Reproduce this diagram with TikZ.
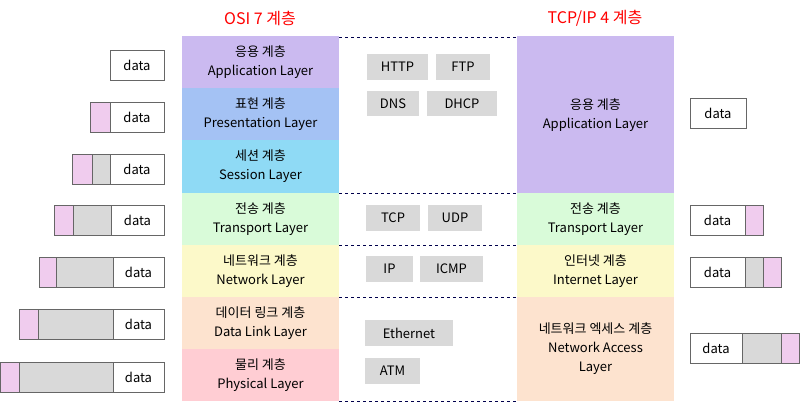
\documentclass[tikz,border=0pt]{standalone}
\usepackage{fontspec}
\setmainfont{Noto Sans CJK KR}
\begin{document}
\begin{tikzpicture}[x=1pt,y=-1pt,
  lay/.style={draw=none,inner sep=0,align=center,font=\fontsize{13}{19}\selectfont},
  dl/.style={dashed,draw=blue!30!black,thick},
  dbox/.style={draw=gray!80!black,fill=white},
  gy/.style={draw=gray!80!black,fill=gray!30},
  dt/.style={font=\fontsize{13}{15}\selectfont}]
\useasboundingbox (0,0) rectangle (800,415);
\definecolor{cA}{HTML}{CBBAF0}\definecolor{cP}{HTML}{A4C2F4}\definecolor{cS}{HTML}{8FDAF5}
\definecolor{cT}{HTML}{D9FBD9}\definecolor{cN}{HTML}{FCF9C9}\definecolor{cD}{HTML}{FDE3CF}\definecolor{cH}{HTML}{FFCDD3}
\definecolor{pk}{HTML}{F0CCEE}
\tikzset{pk/.style={draw=gray!80!black,fill=pk}}
\node[text=red,font=\fontsize{16}{18}\selectfont] (t1) at (260,18) {OSI 7 계층};
\node[text=red,font=\fontsize{16}{18}\selectfont] (t2) at (595,18) {TCP/IP 4 계층};
% OSI
\fill[cA] (182,36) rectangle (339,88); \node[lay] (o1) at (260.5,62) {응용 계층\\Application Layer};
\fill[cP] (182,88) rectangle (339,140); \node[lay] (o2) at (260.5,114) {표현 계층\\Presentation Layer};
\fill[cS] (182,140) rectangle (339,193); \node[lay] (o3) at (260.5,166) {세션 계층\\Session Layer};
\fill[cT] (182,193) rectangle (339,245); \node[lay] (o4) at (260.5,219) {전송 계층\\Transport Layer};
\fill[cN] (182,245) rectangle (339,297); \node[lay] (o5) at (260.5,271) {네트워크 계층\\Network Layer};
\fill[cD] (182,297) rectangle (339,349); \node[lay] (o6) at (260.5,323) {데이터 링크 계층\\Data Link Layer};
\fill[cH] (182,349) rectangle (339,401); \node[lay] (o7) at (260.5,375) {물리 계층\\Physical Layer};
% TCP/IP
\fill[cA] (517,36) rectangle (674,193); \node[lay] (p1) at (595.5,115) {응용 계층\\Application Layer};
\fill[cT] (517,193) rectangle (674,245); \node[lay] (p2) at (595.5,219) {전송 계층\\Transport Layer};
\fill[cN] (517,245) rectangle (674,297); \node[lay] (p3) at (595.5,271) {인터넷 계층\\Internet Layer};
\fill[cD] (517,297) rectangle (674,401); \node[lay] (p4) at (595.5,349) {네트워크 엑세스 계층\\Network Access\\Layer};
% dashed
\foreach \y in {37,193,245,297,401} \draw[dl] (339,\y) -- (517,\y);
% protocols
\foreach \n/\a/\b/\c/\d/\t in {h/367/54/428/80/HTTP,f/436/54/490/80/FTP,d/367/91/419/116/DNS,dh/427/91/497/116/DHCP,tc/366/205/420/231/TCP,ud/428/205/482/231/UDP,ip/366/256/413/282/IP,ic/420/256/483/282/ICMP,e/365/320/453/346/Ethernet,at/365/358/420/384/ATM}
  {\fill[gray!30] (\a,\b) rectangle (\c,\d); \node[dt] (\n) at ({(\a+\c)/2},{(\b+\d)/2}) {\t};}
% left data
\def\h{15}
\foreach \y/\p/\g/\e in {65/110/110/110,117/90/110/110,169/72/92/110,220/54/73/111,272/39/56/113,324/19/38/113,377/0/19/113}{
  \draw[pk] (\p,\y-\h) rectangle (\g,\y+\h);
  \draw[gy] (\g,\y-\h) rectangle (\e,\y+\h);
  \draw[dbox] (\e,\y-\h) rectangle (164,\y+\h);
  \node[dt] at ({(\e+164)/2},\y) {data};}
% right data
\draw[dbox] (690,98) rectangle (746,128); \node[dt] (r1) at (718,113) {data};
\draw[dbox] (690,205) rectangle (745,235); \draw[pk] (745,205) rectangle (763,235); \node[dt] (r2) at (717.5,220) {data};
\draw[dbox] (690,257) rectangle (745,287); \draw[gy] (745,257) rectangle (763,287); \draw[pk] (763,257) rectangle (781,287); \node[dt] (r3) at (717.5,272) {data};
\draw[dbox] (690,333) rectangle (742,363); \draw[gy] (742,333) rectangle (781,363); \draw[pk] (781,333) rectangle (799,363); \node[dt] (r4) at (716,348) {data};
\end{tikzpicture}
\end{document}
